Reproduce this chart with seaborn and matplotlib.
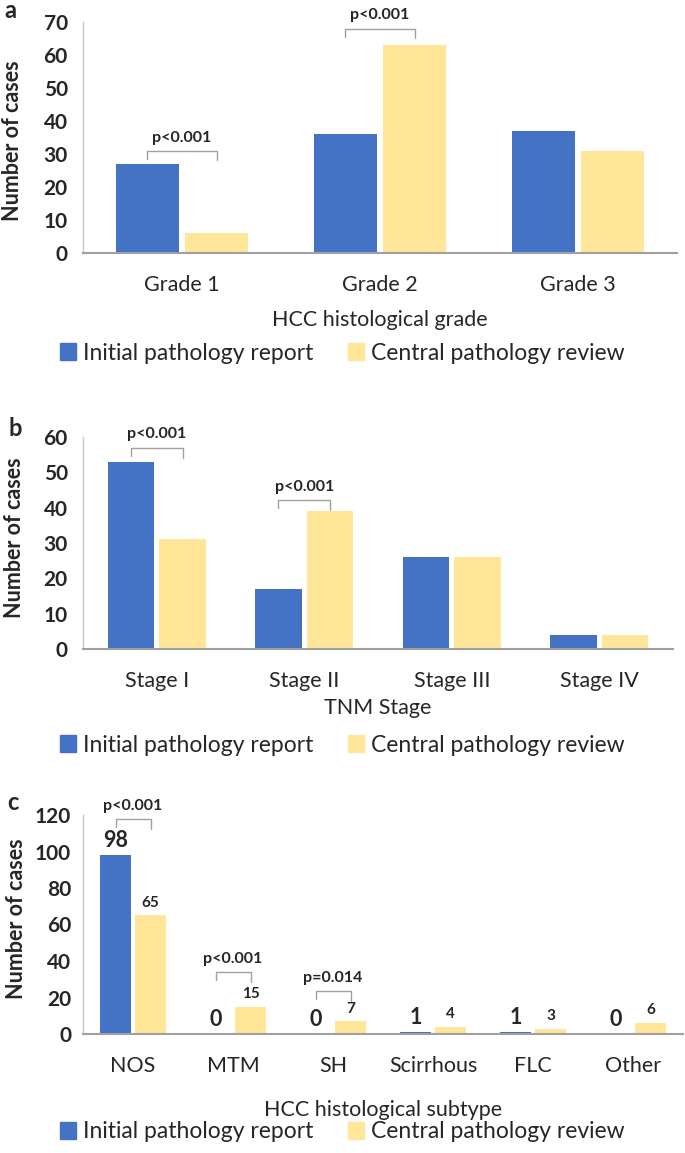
import pandas as pd
import matplotlib
matplotlib.use("Agg")
from matplotlib import pyplot as plt
import seaborn as sns

# data
series = ["Initial pathology report", "Central pathology review"]

grades = ["Grade 1", "Grade 2", "Grade 3"]
grade_initial = [27, 36, 37]
grade_central = [6, 63, 31]

stages = ["Stage I", "Stage II", "Stage III", "Stage IV"]
stage_initial = [53, 17, 26, 4]
stage_central = [31, 39, 26, 4]

subtypes = ["NOS", "MTM", "SH", "Scirrhous", "FLC", "Other"]
subtype_initial = [98, 0, 0, 1, 1, 0]
subtype_central = [65, 15, 7, 4, 3, 6]

# significance brackets: (category index, text, bracket top in data units)
grade_p = [(0, "p<0.001", 31), (1, "p<0.001", 68)]
stage_p = [(0, "p<0.001", 57), (1, "p<0.001", 42.2)]
subtype_p = [(0, "p<0.001", 117.8), (1, "p<0.001", 34), (2, "p=0.014", 23.6)]

blue = "#4472C4"
yellow = "#FFE699"

sns.set_style("white")
plt.rcParams["font.family"] = ["Lato", "DejaVu Sans"]

W, H = 685, 1153
fig = plt.figure(figsize=(W / 100, H / 100), dpi=100)


def make_df(cats, a, b):
    return pd.DataFrame({
        "cat": cats * 2,
        "value": a + b,
        "series": [series[0]] * len(cats) + [series[1]] * len(cats),
    })


def panel(box, cats, a, b, ymax, ystep, xlabel, xlabelpad, brackets, leg, ytickpad):
    l, r, t, btm = box
    ax = fig.add_axes([l / W, 1 - btm / H, (r - l) / W, (btm - t) / H])
    df = make_df(cats, a, b)
    sns.barplot(data=df, x="cat", y="value", hue="series", palette=[blue, yellow],
                width=0.7, gap=0.1, saturation=1, legend=False, ax=ax,
                edgecolor="none", linewidth=0)
    ax.set_ylim(0, ymax)
    ax.set_yticks(range(0, ymax + 1, ystep))
    ax.set_xlim(-0.5, len(cats) - 0.5)
    ax.tick_params(axis="y", length=0, pad=ytickpad, labelsize=15)
    ax.tick_params(axis="x", length=0, pad=16, labelsize=15.5)
    for lab in ax.get_yticklabels():
        lab.set_fontweight("bold")
    ax.set_ylabel("")
    ax.set_xlabel(xlabel, fontsize=15.5, labelpad=xlabelpad)
    for s in ["top", "right"]:
        ax.spines[s].set_visible(False)
    ax.spines["left"].set_color("#c8c8c8")
    ax.spines["left"].set_linewidth(1)
    ax.spines["bottom"].set_color("#a0a0a0")
    ax.spines["bottom"].set_linewidth(1.5)

    # brackets between bar centres
    c0, c1 = ax.containers[0], ax.containers[1]
    for i, txt, top in brackets:
        x0 = c0[i].get_x() + c0[i].get_width() / 2
        x1 = c1[i].get_x() + c1[i].get_width() / 2
        ax.plot([x0, x0, x1, x1], [top - leg, top, top, top - leg * 1.2],
                color="#a0a0a0", lw=1, clip_on=False)
        ax.annotate(txt, xy=((x0 + x1) / 2, top), xytext=(0, 9.5),
                    textcoords="offset points", ha="center", va="center",
                    fontsize=11.5, fontweight="bold", annotation_clip=False)
    return ax


ax_a = panel((83, 677, 22, 253), grades, grade_initial, grade_central, 70, 10,
             "HCC histological grade", 11, grade_p, 2.4, 11)
ax_b = panel((83, 673, 437, 649), stages, stage_initial, stage_central, 60, 10,
             "TNM Stage", 5, stage_p, 2.4, 11)
ax_c = panel((83, 683, 815, 1034), subtypes, subtype_initial, subtype_central, 120, 20,
             "HCC histological subtype", 17, subtype_p, 4.4, 8.5)

# value labels on panel c
ax_c.bar_label(ax_c.containers[0], labels=[str(v) for v in subtype_initial],
               fontsize=15.5, fontweight="bold", padding=3)
ax_c.bar_label(ax_c.containers[1], labels=[str(v) for v in subtype_central],
               fontsize=11, fontweight="bold", padding=4)

# y labels, panel letters, legends
for x, y, letter, lx, ly in [(13, 141, "a", 10, 11), (15, 538, "b", 15, 428),
                             (16.5, 919, "c", 13, 803)]:
    fig.text(x / W, 1 - y / H, "Number of cases", rotation=90, ha="center",
             va="center", fontsize=15.5, fontweight="bold")
    fig.text(lx / W, 1 - ly / H, letter, ha="center", va="center",
             fontsize=17, fontweight="bold")

handles = [plt.Rectangle((0, 0), 1, 1, color=blue), plt.Rectangle((0, 0), 1, 1, color=yellow)]
for ly in [353, 745, 1132]:
    fig.legend(handles, series, loc="center", bbox_to_anchor=(0.5, 1 - ly / H),
               ncol=2, frameon=False, fontsize=16.5, handlelength=0.7,
               handleheight=0.7, handletextpad=0.3, columnspacing=1.5,
               borderaxespad=0, borderpad=0)

fig.savefig("out.png", dpi=100)
